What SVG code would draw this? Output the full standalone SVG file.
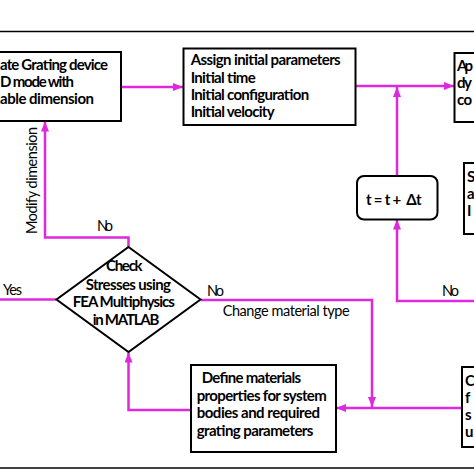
<svg xmlns="http://www.w3.org/2000/svg" width="474" height="474" viewBox="0 0 474 474">
<defs>
<marker id="arr" markerUnits="userSpaceOnUse" markerWidth="10" markerHeight="8" refX="10" refY="4" orient="auto">
<path d="M0,0 L10,4 L0,8 z" fill="#dd28dd"/>
</marker>
<style>
.box{fill:#fff;stroke:#000;stroke-width:2}
.bt{font-family:Lato,"Liberation Sans",sans-serif;font-weight:bold;font-size:15px;fill:#000}
.lb{font-family:Lato,"Liberation Sans",sans-serif;font-size:14.5px;fill:#000}
.con{fill:none;stroke:#dd28dd;stroke-width:2.5}
.frame{stroke:#000;stroke-width:1.6}
</style>
</defs>
<rect width="474" height="474" fill="#fff"/>
<line class="frame" x1="0" y1="31.5" x2="474" y2="31.5"/>
<line class="frame" x1="0" y1="468" x2="474" y2="468"/>

<g id="connectors">
<path class="con" d="M121,87 H183" marker-end="url(#arr)"/>
<path class="con" d="M356,86 H454" marker-end="url(#arr)"/>
<path class="con" d="M397,176 V87" marker-end="url(#arr)"/>
<path class="con" d="M476,301 H397 V219.5" marker-end="url(#arr)"/>
<path class="con" d="M462,408 H336" marker-end="url(#arr)"/>
<path class="con" d="M201,300 H372 V407" marker-end="url(#arr)"/>
<path class="con" d="M191,410 H128.5 V352.5" marker-end="url(#arr)"/>
<path class="con" d="M128.5,247 V237.5 H45 V121.5" marker-end="url(#arr)"/>
<path class="con" d="M56.5,299.5 H-2"/>
<text class="lb" x="97" y="230.5" textLength="16">No</text>
<text class="lb" x="207" y="295.5" textLength="17">No</text>
<text class="lb" x="442" y="295.5" textLength="17">No</text>
<text class="lb" x="3" y="294.5" textLength="19">Yes</text>
<text class="lb" x="222.7" y="315.5" textLength="127">Change material type</text>
<text class="lb" transform="translate(36.8,234) rotate(-90)" textLength="107">Modify dimension</text>
</g>

<g id="generate">
<rect class="box" x="-10" y="52" width="131" height="69"/>
<text class="bt" x="0" y="70" textLength="108">ate Grating device</text>
<text class="bt" x="0" y="87" textLength="74">D mode with</text>
<text class="bt" x="0" y="104" textLength="94">able dimension</text>
</g>

<g id="assign">
<rect class="box" x="183.5" y="48.5" width="172" height="76.5"/>
<text class="bt" x="190.7" y="65" textLength="150">Assign initial parameters</text>
<text class="bt" x="190.7" y="82.5" textLength="65">Initial time</text>
<text class="bt" x="190.7" y="100" textLength="118.5">Initial configuration</text>
<text class="bt" x="190.7" y="117" textLength="84">Initial velocity</text>
</g>

<g id="apply">
<rect class="box" x="454.5" y="53" width="40" height="69"/>
<text class="bt" x="457" y="71" textLength="16">Ap</text>
<text class="bt" x="457" y="88" textLength="15">dy</text>
<text class="bt" x="457" y="105" textLength="15">co</text>
</g>

<g id="solve">
<rect class="box" x="464" y="163" width="30" height="71"/>
<text class="bt" x="467" y="182">S</text>
<text class="bt" x="467" y="199">a</text>
<text class="bt" x="467" y="216">I</text>
</g>

<g id="timestep">
<rect class="box" x="357" y="176" width="80.5" height="43.5" rx="7"/>
<text class="bt" x="366" y="204.5" textLength="55.7">t = t +&#160; Δt</text>
</g>

<g id="check">
<polygon class="box" points="128.5,247 200.5,299.5 128.5,352 56.5,299.5"/>
<text class="bt" x="124.3" y="271" text-anchor="middle" textLength="36.7">Check</text>
<text class="bt" x="128.3" y="289.5" text-anchor="middle" textLength="85.3">Stresses using</text>
<text class="bt" x="123.8" y="307" text-anchor="middle" textLength="102.3">FEA Multiphysics</text>
<text class="bt" x="126" y="324.5" text-anchor="middle" textLength="66.7">in MATLAB</text>
</g>

<g id="define">
<rect class="box" x="191" y="365" width="145" height="87"/>
<text class="bt" x="201.7" y="383" textLength="99.3">Define materials</text>
<text class="bt" x="196.7" y="400.5" textLength="130">properties for system</text>
<text class="bt" x="196.7" y="418" textLength="123.3">bodies and required</text>
<text class="bt" x="196.7" y="435.5" textLength="116.7">grating parameters</text>
</g>

<g id="compute">
<rect class="box" x="462" y="367" width="30" height="80"/>
<text class="bt" x="465" y="386">C</text>
<text class="bt" x="465" y="403">f</text>
<text class="bt" x="465" y="420">s</text>
<text class="bt" x="465" y="437">u</text>
</g>
</svg>
